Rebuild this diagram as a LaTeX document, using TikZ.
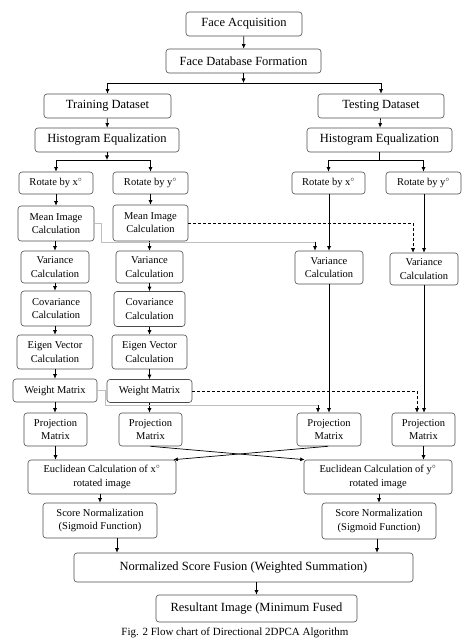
\documentclass[tikz,border=0pt]{standalone}
\usepackage{fontspec}
\setmainfont{Liberation Serif}
\usetikzlibrary{arrows.meta, calc}

\begin{document}
\begin{tikzpicture}[
    x=1pt, y=-1pt,
    bigbox/.style={rectangle, rounded corners=3pt, draw=black!70, line width=0.6pt, align=center, inner sep=1pt, font=\fontsize{12.5}{14}\selectfont},
    smallbox/.style={bigbox, font=\fontsize{10.5}{13.2}\selectfont},
    arrow/.style={-{Latex[length=4.5pt,width=4pt]}, line width=0.7pt},
    link/.style={line width=0.7pt},
    grayline/.style={draw=black!25, line width=0.6pt},
    dashline/.style={line width=0.6pt, dash pattern=on 3pt off 2pt}
]

\useasboundingbox (0,0) rectangle (474,644);

% Top stages
\node[bigbox, minimum width=116pt, minimum height=24pt] (acq) at (244,24) {Face Acquisition};
\node[bigbox, minimum width=155pt, minimum height=24pt] (fdf) at (243.5,61) {Face Database Formation};
\node[bigbox, minimum width=127pt, minimum height=24pt] (train) at (107.5,106) {Training Dataset};
\node[bigbox, minimum width=126pt, minimum height=24pt] (test) at (381,106) {Testing Dataset};
\node[bigbox, minimum width=144pt, minimum height=24pt] (histl) at (107,140) {Histogram Equalization};
\node[bigbox, minimum width=145pt, minimum height=24pt] (histr) at (379.5,140) {Histogram Equalization};

% Rotations
\node[smallbox, minimum width=74pt, minimum height=22pt] (rotxl) at (56,183) {Rotate by x$^{\circ}$};
\node[smallbox, minimum width=75pt, minimum height=22pt] (rotyl) at (150.5,183) {Rotate by y$^{\circ}$};
\node[smallbox, minimum width=73pt, minimum height=22pt] (rotxr) at (328.5,183) {Rotate by x$^{\circ}$};
\node[smallbox, minimum width=75pt, minimum height=22pt] (rotyr) at (423.5,183) {Rotate by y$^{\circ}$};

% Training columns
\node[smallbox, minimum width=76pt, minimum height=35pt] (meanx) at (56,223.5) {Mean Image\\Calculation};
\node[smallbox, minimum width=75pt, minimum height=36pt] (meany) at (150.5,223) {Mean Image\\Calculation};
\node[smallbox, minimum width=68pt, minimum height=32pt] (varx) at (55,267) {Variance\\Calculation};
\node[smallbox, minimum width=67pt, minimum height=32pt] (vary) at (149.5,267) {Variance\\Calculation};
\node[smallbox, minimum width=70pt, minimum height=35pt] (covx) at (56,308.5) {Covariance\\Calculation};
\node[smallbox, minimum width=71pt, minimum height=35pt] (covy) at (149.5,309) {Covariance\\Calculation};
\node[smallbox, minimum width=76pt, minimum height=34pt] (eigx) at (55,352) {Eigen Vector\\Calculation};
\node[smallbox, minimum width=75pt, minimum height=34pt] (eigy) at (149.5,352) {Eigen Vector\\Calculation};
\node[smallbox, minimum width=84pt, minimum height=23pt] (wtx) at (55,390.5) {Weight Matrix};
\node[smallbox, minimum width=85pt, minimum height=23pt] (wty) at (149.5,391) {Weight Matrix};
\node[smallbox, minimum width=63pt, minimum height=33pt] (prjx) at (55.5,429.5) {Projection\\Matrix};
\node[smallbox, minimum width=63pt, minimum height=33pt] (prjy) at (150.5,429.5) {Projection\\Matrix};

% Testing columns
\node[smallbox, minimum width=68pt, minimum height=33pt] (vartx) at (329,267.5) {Variance\\Calculation};
\node[smallbox, minimum width=68pt, minimum height=32pt] (varty) at (424,269) {Variance\\Calculation};
\node[smallbox, minimum width=64pt, minimum height=33pt] (prjtx) at (329,429.5) {Projection\\Matrix};
\node[smallbox, minimum width=63pt, minimum height=33pt] (prjty) at (423.5,429.5) {Projection\\Matrix};

% Matching and fusion
\node[smallbox, minimum width=148pt, minimum height=34pt] (eucx) at (102,477) {Euclidean Calculation of x$^{\circ}$\\rotated image};
\node[smallbox, minimum width=148pt, minimum height=34pt] (eucy) at (378,477) {Euclidean Calculation of y$^{\circ}$\\rotated image};
\node[smallbox, minimum width=114pt, minimum height=35pt] (normx) at (100,520.5) {Score Normalization\\(Sigmoid Function)};
\node[smallbox, minimum width=114pt, minimum height=36pt] (normy) at (379,521) {Score Normalization\\(Sigmoid Function)};
\node[bigbox, minimum width=339pt, minimum height=29pt] (fusion) at (243.5,567.5) {Normalized Score Fusion (Weighted Summation)};
\node[bigbox, minimum width=201pt, minimum height=27pt] (result) at (256.5,608.5) {Resultant Image (Minimum Fused};
\node[font=\fontsize{11}{13}\selectfont, inner sep=0pt] (caption) at (235,633) {Fig. 2 Flow chart of Directional 2DPCA Algorithm};

% Splits
\coordinate (splittop) at (243.5,83);
\coordinate (splitl) at (107,160);
\coordinate (splitr) at (379.5,160);

\draw[arrow] (acq) -- (fdf);
\draw[arrow] (fdf) -- (splittop);
\draw[arrow] (splittop) -| (train.north);
\draw[arrow] (splittop) -| (test.north);
\draw[arrow] (train) -- (histl);
\draw[arrow] (test) -- (histr);

\draw[arrow] (histl) -- (splitl);
\draw[arrow] (splitl) -| (rotxl.north);
\draw[arrow] (splitl) -| (rotyl.north);
\draw[link] (histr) -- (splitr);
\draw[arrow] (splitr) -| (rotxr.north);
\draw[arrow] (splitr) -| (rotyr.north);

% Training chains
\draw[arrow] (rotxl) -- (meanx);
\draw[arrow] (meanx.south -| varx.north) -- (varx);
\draw[arrow] (varx) -- (covx.north -| varx);
\draw[arrow] (covx.south -| varx) -- (eigx);
\draw[arrow] (eigx) -- (wtx);
\draw[arrow] (wtx) -- (wtx.south |- prjx.north);
\draw[arrow] (rotyl) -- (meany);
\draw[arrow] (meany.south -| vary.north) -- (vary);
\draw[arrow] (vary) -- (covy);
\draw[arrow] (covy) -- (eigy);
\draw[arrow] (eigy) -- (wty);
\draw[arrow] (wty) -- (wty.south |- prjy.north);

% Testing chains
\draw[arrow] (rotxr.south -| vartx) -- (vartx);
\draw[arrow] (rotyr.south -| varty) -- (varty);
\draw[arrow] (vartx) -- (prjtx.north -| vartx);
\draw[arrow] (varty) -- (prjty.north -| varty);

% Shared mean image and weight matrix
\coordinate (gmean) at (315,242);
\coordinate (gwt) at (318,405);
\draw[grayline] (meanx.east) -- ++(7,0) |- (gmean);
\draw[arrow] (gmean) -- (gmean |- vartx.north);
\draw[arrow, dashline] (meany.east) -| ([xshift=-11pt]varty.north);
\draw[grayline] (wtx.east) -- ++(8,0) |- (gwt);
\draw[arrow] (gwt) -- (gwt |- prjtx.north);
\draw[arrow, dashline] (wty.east) -| ([xshift=-6.5pt]prjty.north);

% Matching
\draw[arrow] (prjx.south) -- (prjx.south |- eucx.north);
\draw[arrow] (prjty.south) -- (prjty.south |- eucy.north);
\draw[arrow] (prjy.south) -- ([xshift=1pt]eucy.north west);
\draw[arrow] ([xshift=-1pt]prjtx.south) -- ([xshift=-3pt]eucx.north east);

% Normalization and fusion
\draw[arrow] (eucx.south -| normx.north) -- (normx.north);
\draw[arrow] (eucy.south -| normy.north) -- (normy.north);
\draw[arrow] ([xshift=17pt]normx.south) -- ([xshift=17pt]normx.south |- fusion.north);
\draw[arrow] ([xshift=-2pt]normy.south) -- ([xshift=-2pt]normy.south |- fusion.north);
\draw[arrow] (fusion.south -| result.north) -- (result.north);

\end{tikzpicture}
\end{document}
